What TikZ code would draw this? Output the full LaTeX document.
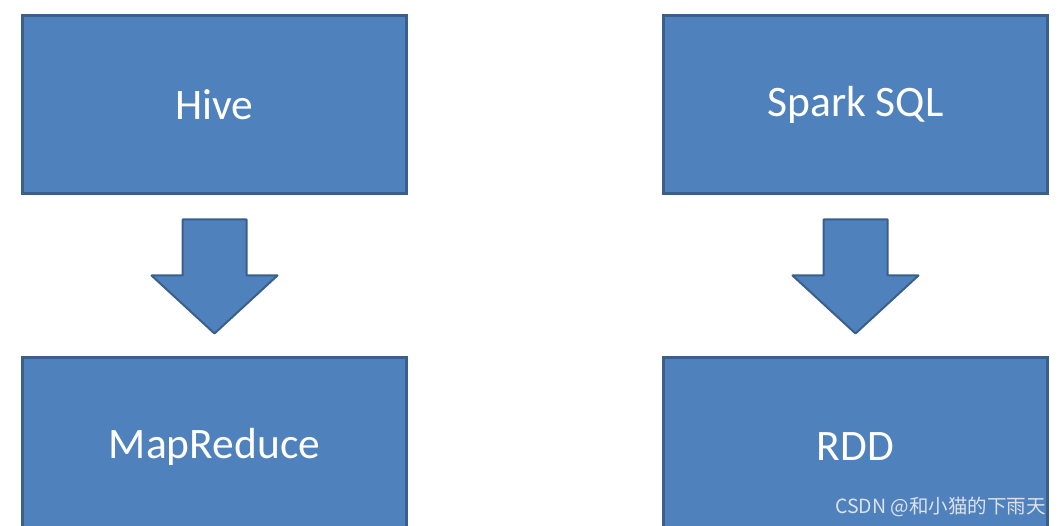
\documentclass[tikz,border=0pt]{standalone}
\usepackage{fontspec}
\setmainfont{Carlito}
\newfontfamily\cjk{Noto Sans CJK SC}
\definecolor{boxfill}{HTML}{4F81BD}
\definecolor{boxline}{HTML}{3A5F8C}
\definecolor{markgray}{HTML}{DCE2EA}
\begin{document}
\begin{tikzpicture}[x=1pt,y=-1pt,
	every node/.style={rectangle,fill=boxfill,draw=boxline,line width=3pt,
		minimum width=384pt,minimum height=178pt,text=white,font=\fontsize{43.5}{52}\selectfont},
	blockarrow/.style={fill=boxfill,draw=boxline,line width=2pt,line join=round}]

			\useasboundingbox (0,0) rectangle (1064,526);

			\node (hive) at (214.5,104.5) {Hive};
			\node (sparksql) at (855.5,104.5) {Spark SQL};
			\node (mapred) at (214.5,446.5) {MapReduce};
			\node (rdd) at (855.5,446.5) {RDD};

			% block arrows hang below the top boxes
			\foreach \top in {hive,sparksql}
				\draw[blockarrow,shift={(\top.south)}] (-32,24.5) -- (32,24.5) -- (32,80.5) -- (63,80.5)
					-- (0,138.5) -- (-63,80.5) -- (-32,80.5) -- cycle;

			\node[fill=none,draw=none,minimum width=0pt,minimum height=0pt,inner sep=0pt,
				anchor=east,text=markgray,font=\cjk\fontsize{19.5}{23}\selectfont] (mark) at (1047,507) {CSDN @和小猫的下雨天};
		\end{tikzpicture}
\end{document}
